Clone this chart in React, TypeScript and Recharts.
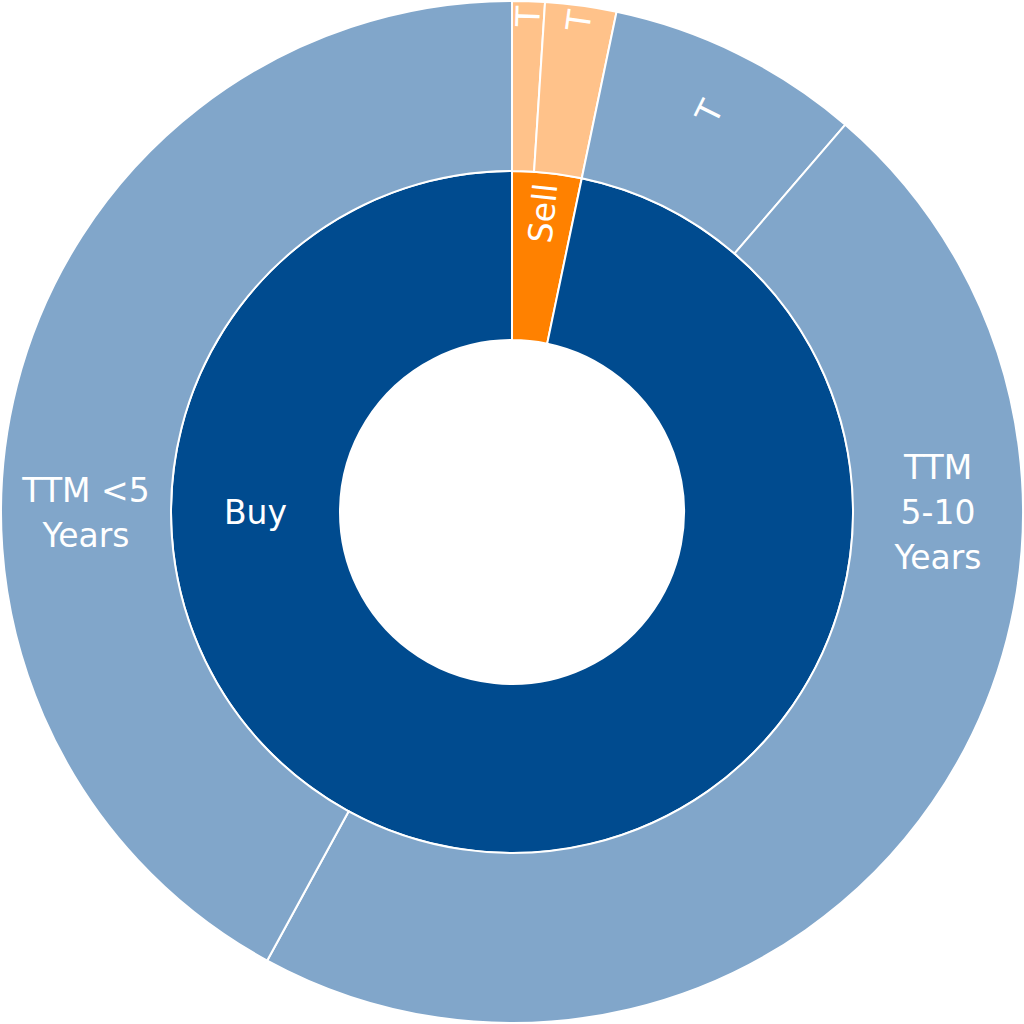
import { PieChart, Pie, Cell } from 'recharts';

// inner ring: side
const sideNames = ['Sell', 'Buy'];
const sideValues = [3.28, 96.72];
const sideColors = ['#ff8100', '#004b8f'];

// outer ring: time to maturity, grouped by side (clockwise from top)
const maturityLabels = ['T', 'T', 'T', 'TTM\n5-10\nYears', 'TTM <5\nYears'];
const maturityValues = [1.03, 2.25, 8.03, 46.64, 42.05];
const maturityColors = ['#ffc28a', '#ffc28a', '#81a6ca', '#81a6ca', '#81a6ca'];

const FONT = 'DejaVu Sans';
const FONT_SIZE = 33;
const LINE_H = 45;
const RAD = Math.PI / 180;

const sideData = sideNames.map((name, i) => ({ name, value: sideValues[i] }));
const maturityData = maturityLabels.map((name, i) => ({ name, value: maturityValues[i] }));

// compass angle (clockwise from 12 o'clock) -> x/y
const polar = (cx: number, cy: number, r: number, c: number) => ({
  x: cx + r * Math.sin(c * RAD),
  y: cy - r * Math.cos(c * RAD),
});

const textStyle = { fontFamily: FONT, fontSize: FONT_SIZE, fill: '#fff' };

const renderLabel = (props: any) => {
  const { cx, cy, innerRadius, outerRadius, startAngle, endAngle, name } = props;
  const cs = 90 - startAngle;
  const ce = 90 - endAngle;
  const span = ce - cs;
  const mid = (cs + ce) / 2;
  const w = outerRadius - innerRadius;
  const lines = String(name).split('\n');

  if (span > 60) {
    // wide slice: horizontal text on the 3 or 9 o'clock side
    const options = [90, 270].filter((c) => c >= cs && c <= ce);
    const c = options.sort((a, b) => Math.abs(a - mid) - Math.abs(b - mid))[0] ?? mid;
    const p = polar(cx, cy, (innerRadius + outerRadius) / 2, c);
    const top = p.y - ((lines.length - 1) * LINE_H) / 2;
    return (
      <text x={p.x} y={top} style={textStyle} textAnchor="middle" dominantBaseline="central">
        {lines.map((l, i) => (
          <tspan key={i} x={p.x} y={top + i * LINE_H}>{l}</tspan>
        ))}
      </text>
    );
  }

  // narrow slice: radial text, pushed outward where it has room
  let r: number;
  if (span < 10) r = outerRadius - 15;
  else if (span < 20) r = innerRadius + w * 0.76;
  else r = innerRadius + w * 0.62;
  const p = polar(cx, cy, r, mid);
  return (
    <text
      x={p.x}
      y={p.y}
      style={textStyle}
      textAnchor="middle"
      dominantBaseline="central"
      transform={`rotate(${mid - 90} ${p.x} ${p.y})`}
    >
      {lines[0]}
    </text>
  );
};

export default function App() {
  return (
    <div style={{ position: 'absolute', left: 0, top: 0, width: 1024, height: 1024, background: '#fff' }}>
      <PieChart width={1024} height={1024} margin={{ top: 0, right: 0, bottom: 0, left: 0 }}>
        <Pie
          data={sideData}
          dataKey="value"
          nameKey="name"
          cx={512}
          cy={512}
          innerRadius={172}
          outerRadius={341}
          startAngle={90}
          endAngle={-270}
          stroke="#fff"
          strokeWidth={2}
          label={renderLabel}
          labelLine={false}
          isAnimationActive={false}
        >
          {sideData.map((d, i) => (
            <Cell key={d.name} fill={sideColors[i]} />
          ))}
        </Pie>
        <Pie
          data={maturityData}
          dataKey="value"
          nameKey="name"
          cx={512}
          cy={512}
          innerRadius={341}
          outerRadius={511}
          maxRadius={600}
          startAngle={90}
          endAngle={-270}
          stroke="#fff"
          strokeWidth={2}
          label={renderLabel}
          labelLine={false}
          isAnimationActive={false}
        >
          {maturityData.map((d, i) => (
            <Cell key={i} fill={maturityColors[i]} />
          ))}
        </Pie>
      </PieChart>
    </div>
  );
}
